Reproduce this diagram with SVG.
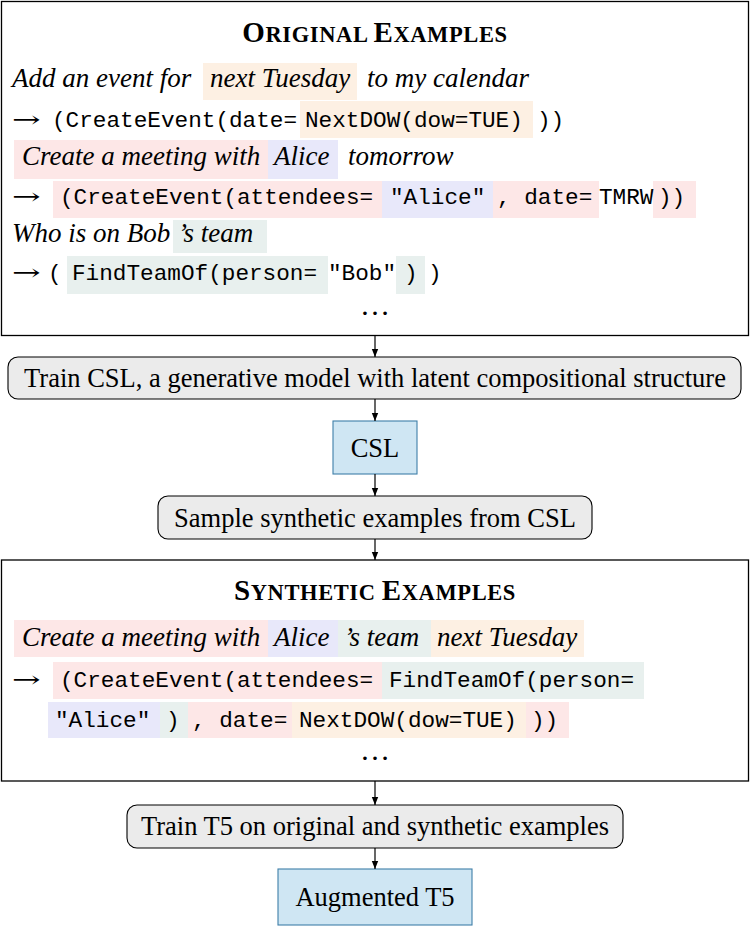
<svg xmlns="http://www.w3.org/2000/svg" width="752" height="929" viewBox="0 0 752 929">
<defs>
<marker id="ah" viewBox="0 0 10 10" refX="10" refY="5" markerWidth="8" markerHeight="8" markerUnits="userSpaceOnUse" orient="auto">
<path d="M0,1 L10,5 L0,9 z" fill="#000"/>
</marker>
</defs>
<style>
.frame{fill:#fff;stroke:#000;stroke-width:1.3}
.step{fill:#ebebeb;stroke:#000;stroke-width:1.1}
.model{fill:#cfe6f3;stroke:#3f7fa8;stroke-width:1.1}
.it{font-family:"Liberation Serif",serif;font-style:italic;font-size:27px;fill:#000}
.rm{font-family:"Liberation Serif",serif;font-size:26.5px;fill:#000}
.dots{font-family:"Liberation Serif",serif;font-size:30px;fill:#000;letter-spacing:0}
.tt{font-family:"Liberation Mono",monospace;font-size:22.7px;fill:#000}
.arr{font-family:"DejaVu Serif",serif;font-size:22px;fill:#000}
.ttl{font-family:"Liberation Serif",serif;font-weight:bold;fill:#000;letter-spacing:0.6px}
.big{font-size:29px}
.sc{font-size:22.5px}
.or{fill:#fdf0e3}
.pk{fill:#fde7e7}
.bl{fill:#e8e8fa}
.gr{fill:#e8f0ee}
.conn line{stroke:#000;stroke-width:1.2;marker-end:url(#ah)}
</style>

<g id="original-examples">
<rect class="frame" x="1.5" y="1.5" width="747" height="334"/>
<text class="ttl" x="375" y="42" text-anchor="middle"><tspan class="big">O</tspan><tspan class="sc">RIGINAL </tspan><tspan class="big">E</tspan><tspan class="sc">XAMPLES</tspan></text>
<rect class="or" x="203" y="63" width="154" height="37"/>
<text class="it" x="12" y="87">Add an event for</text>
<text class="it" x="210" y="87">next Tuesday</text>
<text class="it" x="367" y="87">to my calendar</text>

<rect class="or" x="300" y="101" width="233" height="37"/>
<text class="arr" transform="translate(12,127) scale(1.55,1)">→</text>
<text class="tt" x="52" y="127">(CreateEvent(date=</text>
<text class="tt" x="305" y="127">NextDOW(dow=TUE)</text>
<text class="tt" x="537" y="127">))</text>

<rect class="pk" x="14" y="140" width="254" height="39"/>
<rect class="bl" x="268" y="140" width="70" height="39"/>
<text class="it" x="22" y="165">Create a meeting with</text>
<text class="it" x="274" y="165">Alice</text>
<text class="it" x="348" y="165">tomorrow</text>

<rect class="pk" x="53" y="181" width="329" height="37"/>
<rect class="bl" x="382" y="181" width="111" height="37"/>
<rect class="pk" x="493" y="181" width="106" height="37"/>
<rect class="pk" x="653" y="181" width="43" height="37"/>
<text class="arr" transform="translate(12,204) scale(1.55,1)">→</text>
<text class="tt" x="60" y="204">(CreateEvent(attendees=</text>
<text class="tt" x="390" y="204">"Alice"</text>
<text class="tt" x="497" y="204">, date=</text>
<text class="tt" x="599" y="204">TMRW</text>
<text class="tt" x="658" y="204">))</text>

<rect class="gr" x="173" y="220" width="94" height="33"/>
<text class="it" x="12" y="242">Who is on Bob</text>
<text class="it" x="178" y="242">’s team</text>

<rect class="gr" x="67" y="256" width="261" height="38"/>
<rect class="gr" x="396" y="256" width="29" height="38"/>
<text class="arr" transform="translate(12,280) scale(1.55,1)">→</text>
<text class="tt" x="48" y="280">(</text>
<text class="tt" x="72" y="280">FindTeamOf(person=</text>
<text class="tt" x="328" y="280">"Bob"</text>
<text class="tt" x="404" y="280">)</text>
<text class="tt" x="428" y="280">)</text>
<text class="dots" x="375" y="315" text-anchor="middle">…</text>
</g>

<g id="train-csl">
<rect class="step" x="8" y="357" width="733" height="42" rx="10"/>
<text class="rm" x="375" y="387" text-anchor="middle">Train CSL, a generative model with latent compositional structure</text>
</g>

<g id="csl">
<rect class="model" x="333" y="421" width="84" height="53"/>
<text class="rm" x="375" y="457" text-anchor="middle">CSL</text>
</g>

<g id="sample">
<rect class="step" x="158" y="496" width="434" height="43" rx="10"/>
<text class="rm" x="375" y="527" text-anchor="middle">Sample synthetic examples from CSL</text>
</g>

<g id="synthetic-examples">
<rect class="frame" x="1.5" y="560" width="747" height="221"/>
<text class="ttl" x="375" y="600" text-anchor="middle"><tspan class="big">S</tspan><tspan class="sc">YNTHETIC </tspan><tspan class="big">E</tspan><tspan class="sc">XAMPLES</tspan></text>
<rect class="pk" x="14" y="620" width="254" height="37"/>
<rect class="bl" x="268" y="620" width="70" height="37"/>
<rect class="gr" x="338" y="620" width="93" height="37"/>
<rect class="or" x="431" y="620" width="153" height="37"/>
<text class="it" x="22" y="646">Create a meeting with</text>
<text class="it" x="274" y="646">Alice</text>
<text class="it" x="344" y="646">’s team</text>
<text class="it" x="437" y="646">next Tuesday</text>

<rect class="pk" x="53" y="662" width="329" height="37"/>
<rect class="gr" x="382" y="662" width="262" height="37"/>
<text class="arr" transform="translate(12,687) scale(1.55,1)">→</text>
<text class="tt" x="60" y="687">(CreateEvent(attendees=</text>
<text class="tt" x="389" y="687">FindTeamOf(person=</text>

<rect class="bl" x="48" y="702" width="112" height="36"/>
<rect class="gr" x="160" y="702" width="28" height="36"/>
<rect class="pk" x="188" y="702" width="104" height="36"/>
<rect class="or" x="292" y="702" width="234" height="36"/>
<rect class="pk" x="526" y="702" width="43" height="36"/>
<text class="tt" x="55" y="727">"Alice"</text>
<text class="tt" x="166" y="727">)</text>
<text class="tt" x="192" y="727">, date=</text>
<text class="tt" x="299" y="727">NextDOW(dow=TUE)</text>
<text class="tt" x="531" y="727">))</text>
<text class="dots" x="375" y="760" text-anchor="middle">…</text>
</g>

<g id="train-t5">
<rect class="step" x="127" y="805" width="496" height="43" rx="10"/>
<text class="rm" x="375" y="835" text-anchor="middle">Train T5 on original and synthetic examples</text>
</g>

<g id="augmented-t5">
<rect class="model" x="278" y="869" width="194" height="56"/>
<text class="rm" x="375" y="906" text-anchor="middle">Augmented T5</text>
</g>

<g id="connectors" class="conn">
<line x1="375" y1="336" x2="375" y2="357"/>
<line x1="375" y1="399" x2="375" y2="421"/>
<line x1="375" y1="474" x2="375" y2="496"/>
<line x1="375" y1="539" x2="375" y2="560"/>
<line x1="375" y1="781" x2="375" y2="805"/>
<line x1="375" y1="848" x2="375" y2="869"/>
</g>
</svg>
